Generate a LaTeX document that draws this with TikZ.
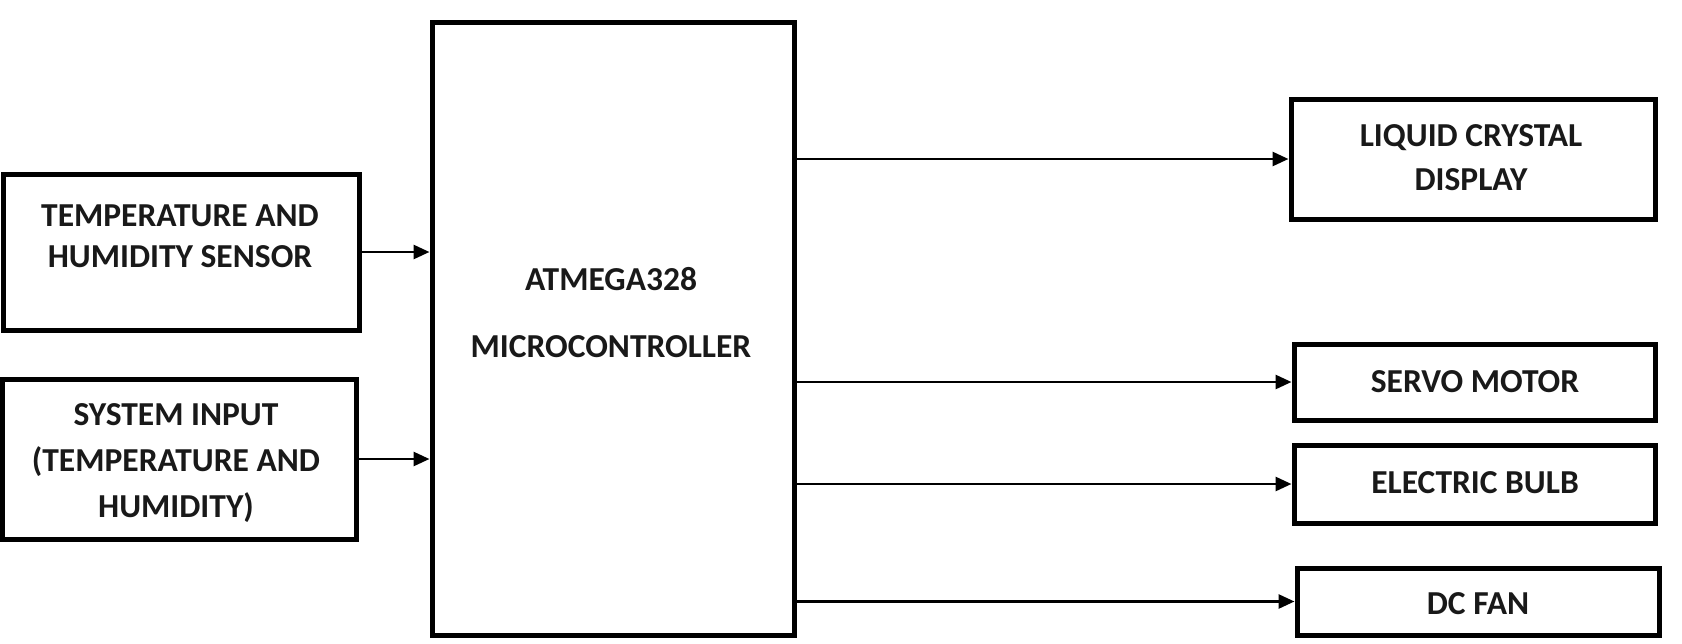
\documentclass[tikz,border=0pt]{standalone}
\usepackage{fontspec}
\setmainfont{Carlito}
\usetikzlibrary{arrows.meta}
\begin{document}
\begin{tikzpicture}[x=1pt,y=-1pt,
  blk/.style={draw=black,line width=5pt,rectangle,inner sep=0pt,fill=none},
  txt/.style={align=center,inner sep=0pt,text=black!90},
  arr/.style={line width=2.8pt,-{Triangle[length=16pt,width=14pt]}}]
\useasboundingbox[fill=white] (0,0) rectangle (1682,643);
% boxes
\node[blk,minimum width=356pt,minimum height=156pt] (s1) at (181,252) {};
\node[blk,minimum width=354pt,minimum height=160pt] (s2) at (179,459) {};
\node[blk,minimum width=362pt,minimum height=613pt] (mcu) at (613,328.5) {};
\node[blk,minimum width=364pt,minimum height=120pt] (lcd) at (1473,159) {};
\node[blk,minimum width=361pt,minimum height=76pt] (servo) at (1474.5,382) {};
\node[blk,minimum width=361pt,minimum height=78pt] (bulb) at (1474.5,484) {};
\node[blk,minimum width=362pt,minimum height=67pt] (fan) at (1478,601.5) {};
% texts
\node[txt,font=\bfseries\fontsize{33.5}{41}\selectfont] (t1) at (180,236) {TEMPERATURE AND\\HUMIDITY SENSOR};
\node[txt,font=\bfseries\fontsize{33.5}{46}\selectfont] (t2) at (176,463) {SYSTEM INPUT\\(TEMPERATURE AND\\HUMIDITY)};
\node[txt,font=\bfseries\fontsize{33.5}{67}\selectfont] (tm) at (611,313) {ATMEGA328\\MICROCONTROLLER};
\node[txt,font=\bfseries\fontsize{33.5}{44}\selectfont] (tl) at (1471,158) {LIQUID CRYSTAL\\DISPLAY};
\node[txt,font=\bfseries\fontsize{33.5}{40}\selectfont] (ts) at (1475,382) {SERVO MOTOR};
\node[txt,font=\bfseries\fontsize{33.5}{40}\selectfont] (tb) at (1475,483) {ELECTRIC BULB};
\node[txt,font=\bfseries\fontsize{33.5}{40}\selectfont] (tf) at (1478,604) {DC FAN};
% connectors
\draw[arr] (s1.east) -- (s1.east -| mcu.west);
\draw[arr] (s2.east) -- (s2.east -| mcu.west);
\draw[arr] (mcu.east |- lcd.west) -- (lcd.west);
\draw[arr] (mcu.east |- servo.west) -- (servo.west);
\draw[arr] (mcu.east |- bulb.west) -- (bulb.west);
\draw[arr] (mcu.east |- fan.west) -- (fan.west);
\end{tikzpicture}
\end{document}
